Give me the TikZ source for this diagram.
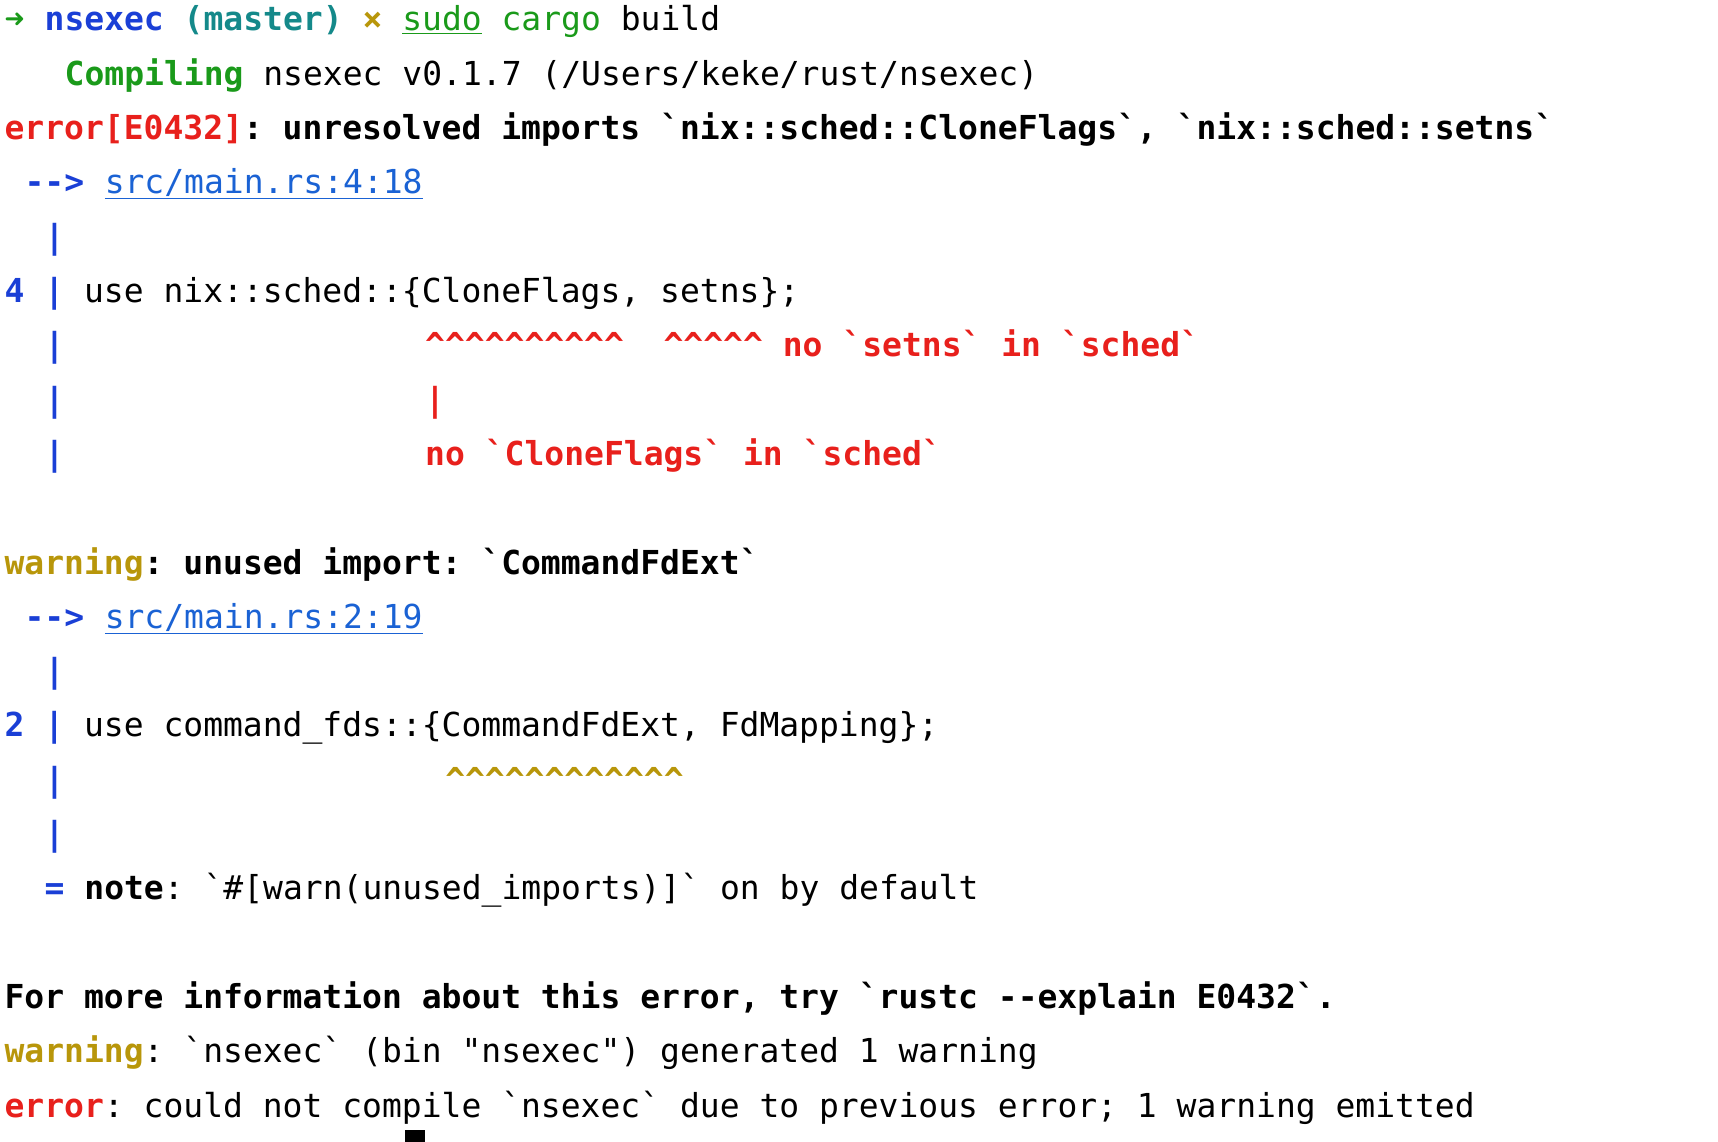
\documentclass[tikz,border=0pt]{standalone}
\usepackage{fontspec}
\setmonofont{DejaVu Sans Mono}
\newfontfamily\mono{DejaVu Sans Mono}
\frenchspacing
\definecolor{cblue}{HTML}{1A3FD6}
\definecolor{cteal}{HTML}{14898A}
\definecolor{cgreen}{HTML}{1A9A1A}
\definecolor{colive}{HTML}{B8960A}
\definecolor{cred}{HTML}{E8201C}
\definecolor{clink}{HTML}{1A62D4}
\newcommand{\bq}{\symbol{96}}
\newcommand{\ca}{\symbol{94}}
\newcommand{\lb}{\symbol{123}}
\newcommand{\rb}{\symbol{125}}
\newcommand{\us}{\symbol{95}}
\tikzset{ln/.style={anchor=base west,inner sep=0pt,font=\mono\frenchspacing\fontsize{33}{33}\selectfont}}
\newcommand{\Ln}[4][]{\node[ln,#1] (l#2x#3) at ({4.4+#3*20.03pt},{-(31+(#2-1)*54.3)*1pt}) {\frenchspacing #4};}
\begin{document}
\begin{tikzpicture}[x=1pt,y=1pt]
\useasboundingbox (0,0) rectangle (1718,-1142);
\clip (0,0) rectangle (1718,-1142);
\fill[white] (0,0) rectangle (1718,-1142);
\Ln[text=cgreen]{1}{0}{\bfseries ➜}
\Ln{1}{2}{\bfseries\textcolor{cblue}{nsexec} \textcolor{cteal}{(master)} \textcolor{colive}{×}\mdseries{} \textcolor{cgreen}{\underline{sudo} cargo} build}
\Ln{2}{3}{\textcolor{cgreen}{\bfseries Compiling} nsexec v0.1.7 (/Users/keke/rust/nsexec)}
\Ln{3}{0}{\bfseries\textcolor{cred}{error[E0432]}: unresolved imports \bq nix::sched::CloneFlags\bq, \bq nix::sched::setns\bq}
\Ln[text=cblue,font=\mono\bfseries\fontsize{33}{33}\selectfont]{4}{1}{-->}
\Ln[text=clink]{4}{5}{\underline{src/main.rs:4:18}}
\Ln[text=cblue]{5}{2}{\bfseries|}
\Ln{6}{0}{\textcolor{cblue}{\bfseries 4 |} use nix::sched::\lb CloneFlags, setns\rb;}
\Ln[text=cblue]{7}{2}{\bfseries|}
\Ln[text=cred]{7}{21}{\bfseries \ca\ca\ca\ca\ca\ca\ca\ca\ca\ca\ \ \ca\ca\ca\ca\ca\ no \bq setns\bq\ in \bq sched\bq}
\Ln[text=cblue]{8}{2}{\bfseries|}
\Ln[text=cred]{8}{21}{\bfseries|}
\Ln[text=cblue]{9}{2}{\bfseries|}
\Ln[text=cred]{9}{21}{\bfseries no \bq CloneFlags\bq\ in \bq sched\bq}
\Ln{11}{0}{\bfseries\textcolor{colive}{warning}: unused import: \bq CommandFdExt\bq}
\Ln[text=cblue,font=\mono\bfseries\fontsize{33}{33}\selectfont]{12}{1}{-->}
\Ln[text=clink]{12}{5}{\underline{src/main.rs:2:19}}
\Ln[text=cblue]{13}{2}{\bfseries|}
\Ln{14}{0}{\textcolor{cblue}{\bfseries 2 |} use command\us fds::\lb CommandFdExt, FdMapping\rb;}
\Ln[text=cblue]{15}{2}{\bfseries|}
\Ln[text=colive]{15}{22}{\bfseries\ca\ca\ca\ca\ca\ca\ca\ca\ca\ca\ca\ca}
\Ln[text=cblue]{16}{2}{\bfseries|}
\Ln{17}{2}{\textcolor{cblue}{\bfseries =} \textbf{note}: \bq\#[warn(unused\us imports)]\bq\ on by default}
\Ln{19}{0}{\bfseries For more information about this error, try \bq rustc --explain E0432\bq.}
\Ln{20}{0}{\textcolor{colive}{\bfseries warning}: \bq nsexec\bq\ (bin "nsexec") generated 1 warning}
\Ln{21}{0}{\textcolor{cred}{\bfseries error}: could not compile \bq nsexec\bq\ due to previous error; 1 warning emitted}
\fill[black] ({4.4+20*20.03},-1130) rectangle ({4.4+21*20.03},-1160);
\end{tikzpicture}
\end{document}
